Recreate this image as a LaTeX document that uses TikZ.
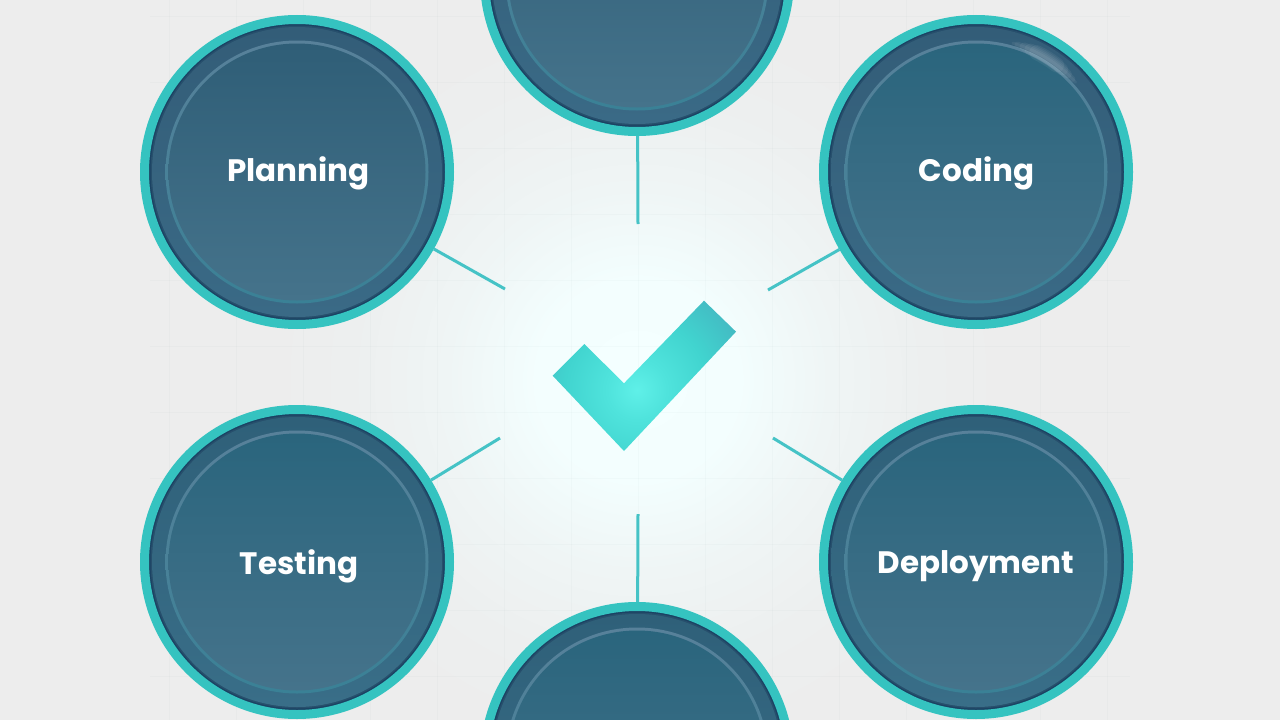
\documentclass[tikz,border=0pt]{standalone}
\usepackage{fontspec}
\setmainfont{Poppins}
\usetikzlibrary{calc}
\definecolor{bgc}{HTML}{EDEDED}
\definecolor{tealc}{HTML}{35C3C0}
\definecolor{edgec}{HTML}{1B4263}
\definecolor{midedge}{HTML}{274F6C}
\definecolor{facebot}{HTML}{45738B}
\definecolor{rimtop}{HTML}{58819A}
\definecolor{rimmid}{HTML}{47778F}
\definecolor{rimbot}{HTML}{3A8196}
\definecolor{spokec}{HTML}{45C3C6}
\definecolor{gA}{HTML}{F4FFFF}
\definecolor{gB}{HTML}{F3FEFE}
\definecolor{gC}{HTML}{EFF5F5}
\definecolor{gD}{HTML}{EDEFEF}
\definecolor{cA}{HTML}{5FF0E8}
\definecolor{cB}{HTML}{4FE3DC}
\definecolor{cC}{HTML}{41D4CF}
\definecolor{cD}{HTML}{43BBC3}
\definecolor{faceA}{HTML}{2F5E77}
\definecolor{bandA}{HTML}{335D78}
\definecolor{bandAb}{HTML}{3A6A86}
\definecolor{faceB}{HTML}{2A657D}
\definecolor{bandB}{HTML}{2F6079}
\definecolor{bandBb}{HTML}{396E88}
\pgfdeclareradialshading{glowshade}{\pgfpoint{0bp}{0bp}}{color(0bp)=(gA);color(6.25bp)=(gB);color(12bp)=(gC);color(18bp)=(gD);color(23bp)=(bgc);color(50bp)=(bgc)}
\pgfdeclareradialshading{checkshade}{\pgfpoint{0bp}{0bp}}{color(0bp)=(cA);color(6bp)=(cB);color(14.5bp)=(cC);color(23bp)=(cD);color(50bp)=(cD)}
\tikzset{
  ringdisc/.style={circle,draw=tealc,line width=9pt,fill=edgec,minimum size=305pt,inner sep=0pt},
  stagelabel/.style={text=white,font=\bfseries\fontsize{31}{34}\selectfont,inner sep=0pt},
  spoke/.style={draw=spokec,line width=3pt},
  gridline/.style={draw=black!60!teal,line width=1pt,opacity=.02}
}
% name, x, y, label, face top, band top, band bottom, extras; label offset in \labdx,\labdy
\newcommand{\labdx}{0}
\newcommand{\labdy}{0}
\newcommand{\stage}[8]{%
  \node[ringdisc] (#1) at (#2,#3) {};
  \fill[midedge] (#1.center) circle (146.5);
  \shade[top color=#6,bottom color=#7] (#1.center) circle (145);
  \shade[top color=rimtop,middle color=rimmid,bottom color=rimbot] (#1.center) circle (131.5);
  \shade[top color=#5,bottom color=facebot] (#1.center) circle (128.5);
  #8
  \node[stagelabel] (#1-label) at ($(#1.center)+(\labdx,\labdy)$) {#4};
}
\begin{document}
\begin{tikzpicture}[x=1pt,y=-1pt]
\useasboundingbox (0,0) rectangle (1280,720);
\clip (0,0) rectangle (1280,720);
\fill[bgc] (0,0) rectangle (1280,720);
\shade[shading=glowshade] (638,380) circle (400);
\foreach \k in {-7,...,7}{\draw[gridline] ({638+67*\k},0) -- ({638+67*\k},720);}
\foreach \k in {-4,...,6}{\draw[gridline] (150,{280+66*\k}) -- (1130,{280+66*\k});}
\coordinate (c-top) at (638,224);
\coordinate (c-bot) at (638,514);
\coordinate (c-pl) at (505,289);
\coordinate (c-co) at (768,290);
\coordinate (c-te) at (500,438);
\coordinate (c-de) at (773,438);
\stage{top}{637}{-21}{}{faceA}{bandA}{bandAb}{}
\stage{bot}{637}{759}{}{faceB}{bandB}{bandBb}{}
\renewcommand{\labdx}{1.5}\renewcommand{\labdy}{1}
\stage{plan}{297}{172}{Planning}{faceA}{bandA}{bandAb}{}
\renewcommand{\labdx}{0.5}
\stage{code}{976}{172}{Coding}{faceB}{bandA}{bandAb}{%
  \foreach \a/\b/\w in {-74/-42/3,-72/-44/6,-69/-47/9,-66/-50/12,-63/-53/15}{
    \draw[white,opacity=.06,line width=\w pt,line cap=round] ($(code.center)+(\a:134)$) arc[start angle=\a,end angle=\b,radius=134];}
}
\renewcommand{\labdx}{2}\renewcommand{\labdy}{4.5}
\stage{test}{297}{562}{Testing}{faceB}{bandB}{bandBb}{}
\renewcommand{\labdx}{0}
\stage{depl}{976}{562}{Deployment}{faceB}{bandB}{bandBb}{}
\draw[spoke] (top) -- (c-top);
\draw[spoke] (bot) -- (c-bot);
\draw[spoke] (plan) -- (c-pl);
\draw[spoke] (code) -- (c-co);
\draw[spoke] (test) -- (c-te);
\draw[spoke] (depl) -- (c-de);
\begin{scope}
  \clip (552.7,375.7) -- (584.3,344) -- (624,383.3) -- (704,300.7) -- (736,331.7) -- (624,451) -- cycle;
  \shade[shading=checkshade] (637,390) circle (125);
\end{scope}
\end{tikzpicture}
\end{document}
